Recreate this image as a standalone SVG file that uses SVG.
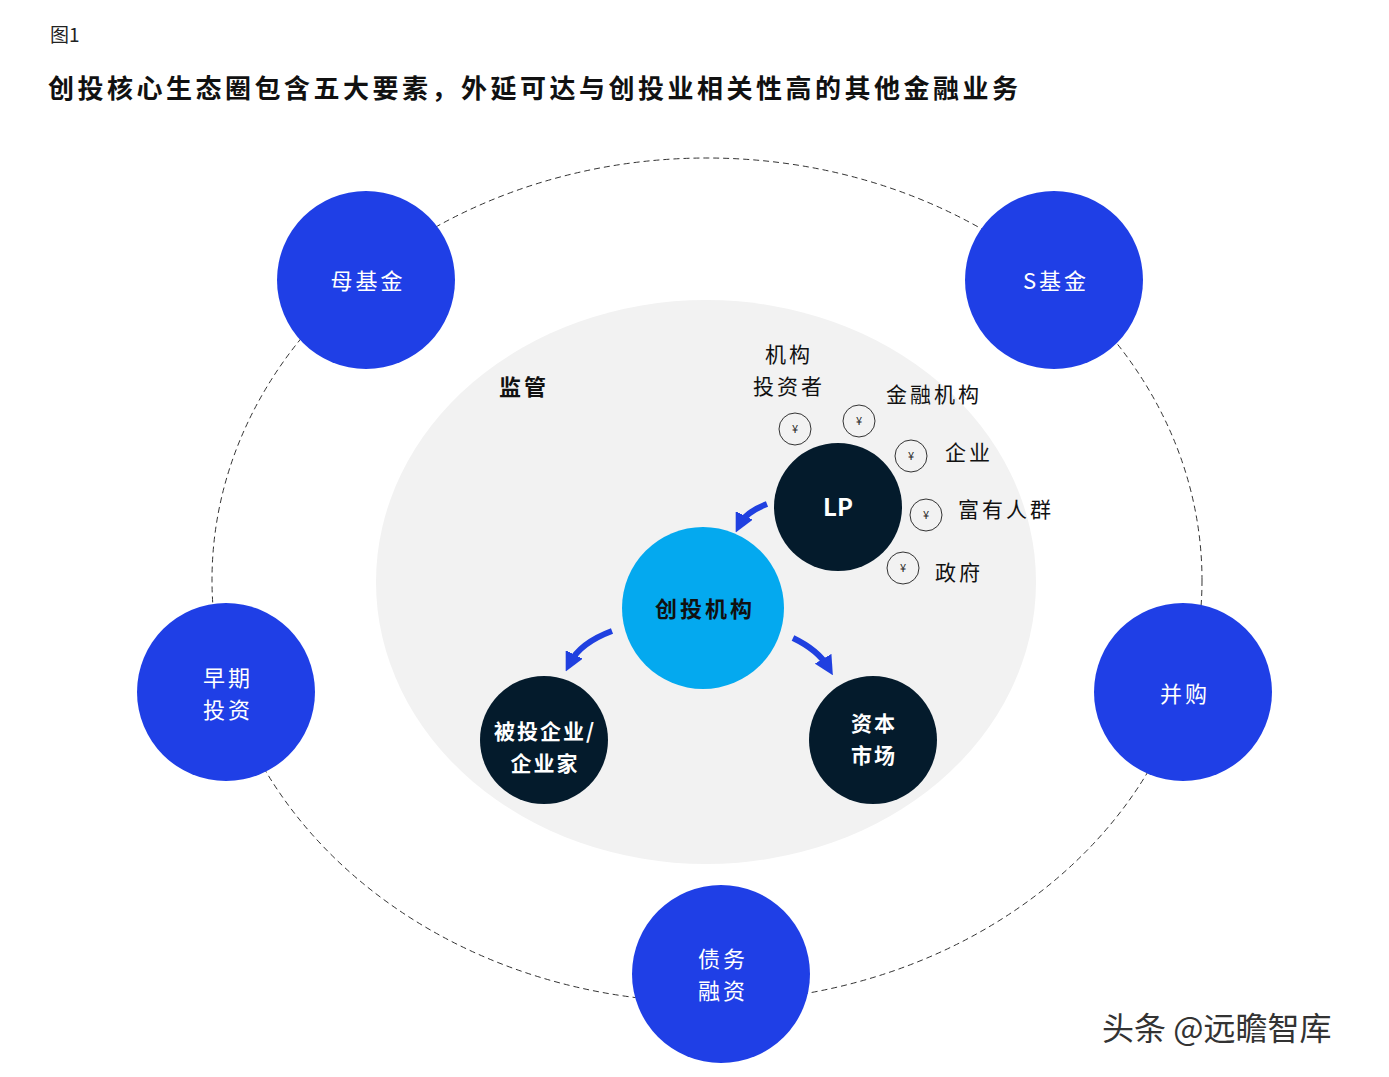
<svg xmlns="http://www.w3.org/2000/svg" width="1389" height="1077" viewBox="0 0 1389 1077">
<style>
text{font-family:"Noto Sans CJK SC","Liberation Sans",sans-serif}
.big{fill:#1f3fe6}
.bt{fill:#fff;font-size:22px;text-anchor:middle;letter-spacing:3px}
.dk{fill:#041b2c}
.wt{fill:#fff;font-size:21px;font-weight:bold;text-anchor:middle;letter-spacing:2px}
.lab{fill:#111;font-size:21px;letter-spacing:3px}
.yc{fill:none;stroke:#333;stroke-width:1}
.yt{font-size:11px;text-anchor:middle;fill:#222}
.arr{fill:none;stroke:#2040e0;stroke-width:6}
</style>
<defs><marker id="ah" viewBox="0 0 10 10" refX="5" refY="5" markerWidth="3.2" markerHeight="3.2" orient="auto"><path d="M0,0L10,5L0,10z" fill="#2040e0"/></marker></defs>
<rect width="1389" height="1077" fill="#fff"/>
<text x="50" y="42" font-size="19" fill="#222">图1</text>
<text x="48" y="98" font-size="26" font-weight="bold" fill="#111" letter-spacing="3.5">创投核心生态圈包含五大要素，外延可达与创投业相关性高的其他金融业务</text>
<ellipse cx="707" cy="580" rx="495" ry="422" fill="none" stroke="#333" stroke-width="1" stroke-dasharray="6,4"/>
<ellipse cx="706" cy="582" rx="330" ry="282" fill="#f2f2f2"/>
<text x="499" y="395" font-size="22" font-weight="bold" fill="#111" letter-spacing="3">监管</text>
<g id="connectors">
<path class="arr" d="M767,504 Q746,512 740,524" marker-end="url(#ah)"/>
<path class="arr" d="M612,631 Q580,643 570,663" marker-end="url(#ah)"/>
<path class="arr" d="M793,638 Q818,650 828,667" marker-end="url(#ah)"/>
</g>
<g id="mujijin"><circle class="big" cx="366" cy="280" r="89"/><text class="bt" x="368" y="289">母基金</text></g>
<g id="sjijin"><circle class="big" cx="1054" cy="280" r="89"/><text class="bt" x="1056" y="289">S基金</text></g>
<g id="zaoqi"><circle class="big" cx="226" cy="692" r="89"/><text class="bt" x="228" y="686">早期</text><text class="bt" x="228" y="718">投资</text></g>
<g id="binggou"><circle class="big" cx="1183" cy="692" r="89"/><text class="bt" x="1185" y="702">并购</text></g>
<g id="zhaiwu"><circle class="big" cx="721" cy="974" r="89"/><text class="bt" x="723" y="967">债务</text><text class="bt" x="723" y="999">融资</text></g>
<g id="lp"><circle class="dk" cx="838" cy="507" r="64"/><text x="838" y="516" font-size="24" font-weight="bold" fill="#fff" text-anchor="middle" font-family="Liberation Sans,sans-serif">LP</text></g>
<g id="chuangtou"><circle cx="703" cy="608" r="81" fill="#04a9ef"/><text x="705" y="617" font-size="22" font-weight="bold" fill="#111" text-anchor="middle" letter-spacing="3">创投机构</text></g>
<g id="beitou"><circle class="dk" cx="544" cy="740" r="64"/><text class="wt" x="545" y="739">被投企业/</text><text class="wt" x="545" y="771">企业家</text></g>
<g id="ziben"><circle class="dk" cx="873" cy="740" r="64"/><text class="wt" x="874" y="731">资本</text><text class="wt" x="874" y="763">市场</text></g>
<g id="investors">
<text class="lab" x="789" y="362" text-anchor="middle">机构</text>
<text class="lab" x="789" y="394" text-anchor="middle">投资者</text>
<text class="lab" x="886" y="402">金融机构</text>
<text class="lab" x="945" y="460">企业</text>
<text class="lab" x="958" y="517">富有人群</text>
<text class="lab" x="935" y="580">政府</text>
<circle class="yc" cx="795" cy="429" r="16"/><text class="yt" x="795" y="433">¥</text>
<circle class="yc" cx="859" cy="421" r="16"/><text class="yt" x="859" y="425">¥</text>
<circle class="yc" cx="911" cy="456" r="16"/><text class="yt" x="911" y="460">¥</text>
<circle class="yc" cx="926" cy="515" r="16"/><text class="yt" x="926" y="519">¥</text>
<circle class="yc" cx="903" cy="568" r="16"/><text class="yt" x="903" y="572">¥</text>
</g>
<text x="1102" y="1040" font-size="32" fill="#333">头条 @远瞻智库</text>
</svg>
